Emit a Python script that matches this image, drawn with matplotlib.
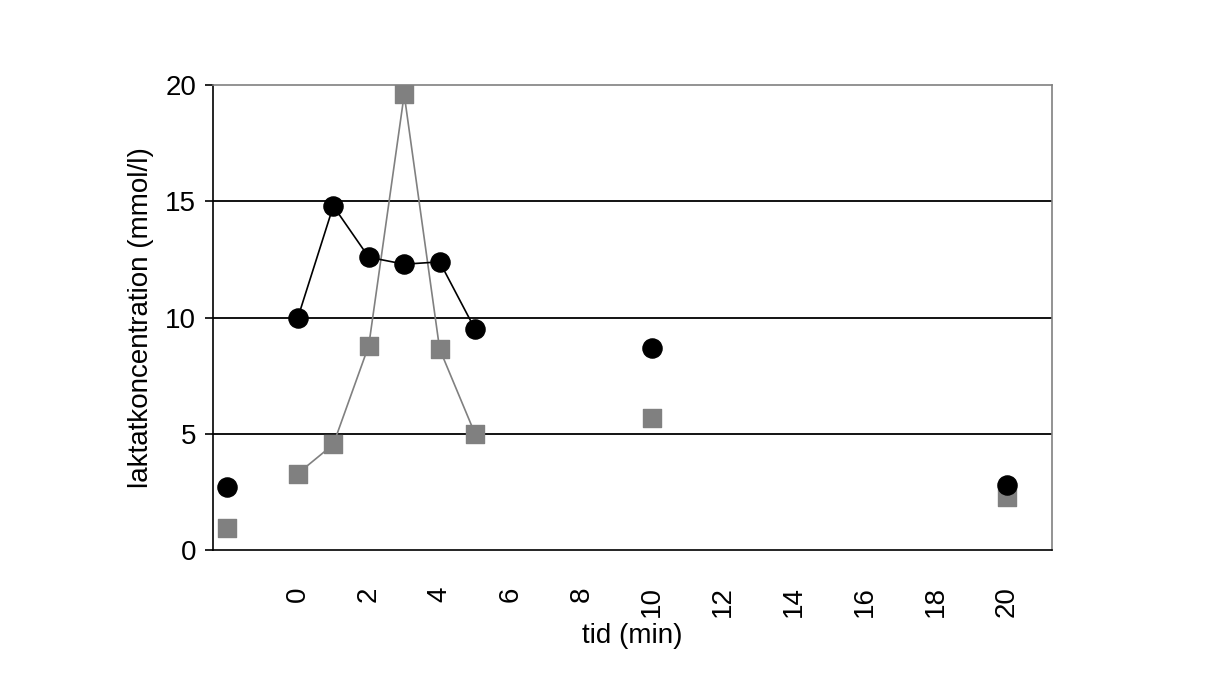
import matplotlib
matplotlib.use("Agg")
import matplotlib.pyplot as plt

plt.rcParams['font.family'] = ['Liberation Sans', 'DejaVu Sans']

# time points (min); -2 is the resting sample before exercise
t = [-2, 0, 1, 2, 3, 4, 5, 10, 20]
black = [2.7, 10.0, 14.8, 12.6, 12.3, 12.4, 9.5, 8.7, 2.8]
gray = [0.95, 3.3, 4.55, 8.8, 19.6, 8.65, 5.0, 5.7, 2.3]
xticks = list(range(0, 21, 2))
yticks = [0, 5, 10, 15, 20]

fig = plt.figure(figsize=(12.09, 6.81), dpi=100)
ax = fig.add_axes([0.176, 0.192, 0.694, 0.683])

for yv in yticks[1:-1]:
    ax.axhline(yv, color="black", lw=1.3, zorder=1)

# connected segment 0..5 min, isolated points elsewhere
ax.plot(t[1:7], gray[1:7], color="#808080", lw=1.2, zorder=2)
ax.plot(t[1:7], black[1:7], color="black", lw=1.2, zorder=3)
ax.scatter(t, gray, marker="s", s=170, color="#808080", zorder=4)
ax.scatter(t, black, marker="o", s=190, color="black", zorder=5)

ax.set_xlim(-2.4, 21.27)
ax.set_ylim(0, 20)
ax.set_xticks(xticks)
ax.set_xticklabels([str(v) for v in xticks], rotation=90, fontsize=20)
ax.set_yticks(yticks)
ax.set_yticklabels([str(v) for v in yticks], fontsize=20)
ax.tick_params(axis="x", length=0, pad=26)
ax.tick_params(axis="y", direction="out", length=6, width=1.2, pad=6)
for s in ax.spines.values():
    s.set_color("#808080")
    s.set_linewidth(1.2)
ax.spines["left"].set_color("black")
ax.spines["bottom"].set_color("black")

ax.set_xlabel("tid (min)", fontsize=20, labelpad=4)
ax.set_ylabel("laktatkoncentration (mmol/l)", fontsize=20, labelpad=8)

fig.savefig("out.png", dpi=100)
